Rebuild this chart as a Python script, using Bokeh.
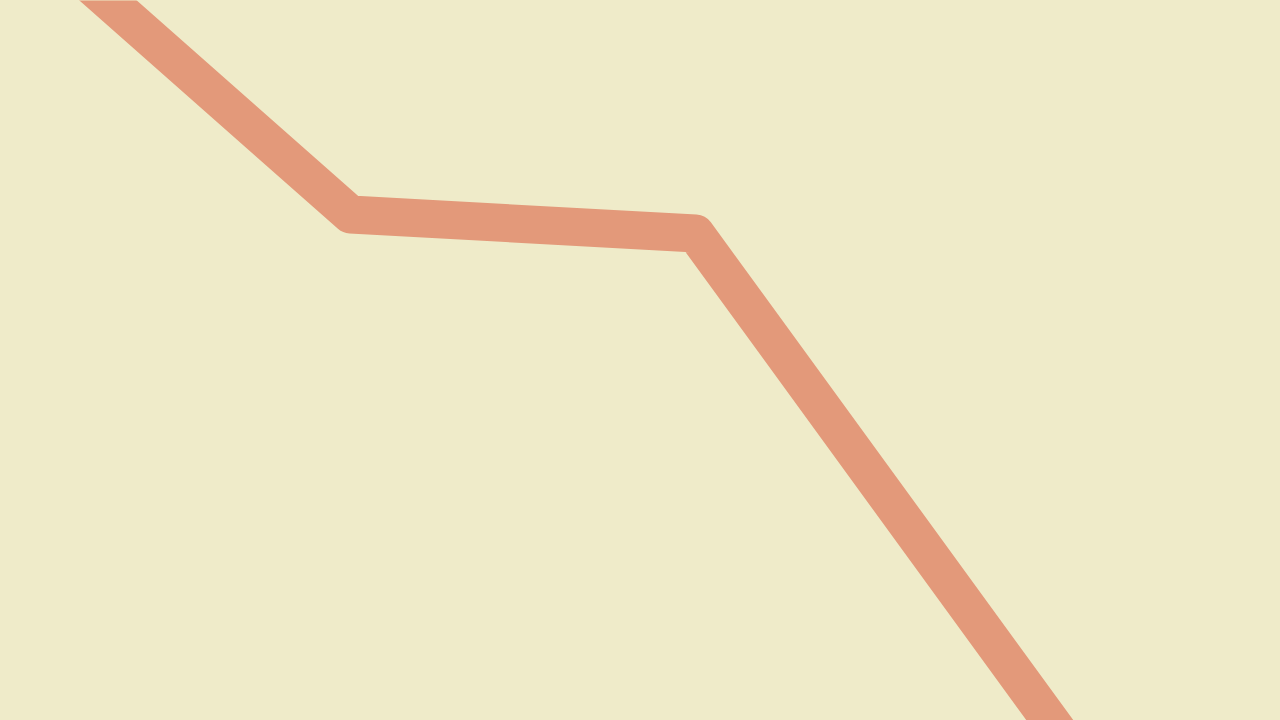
from bokeh.plotting import figure
from bokeh.models import Range1d
from bokeh.embed import file_html
from bokeh.resources import INLINE

# Path of the line (reference pixel coordinates, y downward); ends extend past the frame
x_vals = [51, 350, 695, 1086]
y_vals = [-50, 214, 233, 770]

BG = "#EFEBC9"
LINE = "#E3997A"

p = figure(width=1280, height=720, output_backend="svg", toolbar_location=None,
           x_range=Range1d(0, 1280), y_range=Range1d(720, 0),
           min_border=0, min_border_left=0, min_border_right=0,
           min_border_top=0, min_border_bottom=0)
p.axis.visible = False
p.grid.visible = False
p.outline_line_color = None
p.background_fill_color = BG
p.border_fill_color = BG

p.line(x_vals, y_vals, line_width=38, line_color=LINE,
       line_join="round", line_cap="butt")

try:
    from bokeh.models import GlobalInlineStyleSheet
    p.stylesheets = [GlobalInlineStyleSheet(css="html, body { background: %s; margin: 0; overflow: hidden; }" % BG)]
except Exception:
    pass

open("out.html", "w").write(file_html(p, INLINE))
